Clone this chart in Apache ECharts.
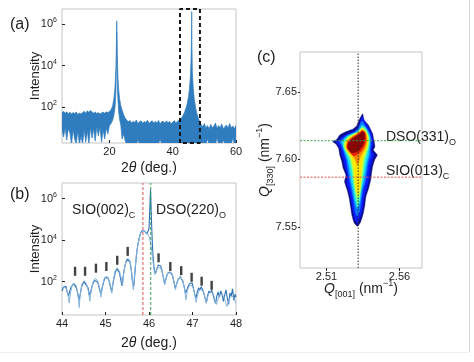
<!DOCTYPE html>
<html><head><meta charset="utf-8">
<script src="https://cdn.jsdelivr.net/npm/echarts@6/dist/echarts.min.js"></script>
<style>html,body{margin:0;padding:0;background:#fff;}#c{width:474px;height:362px;}</style>
</head><body><div id="c"></div>
<script>
// ---------- Panel (a): wide 2θ scan. Noisy trace read as an envelope band [2θ, log10 I upper, log10 I lower]
const aBand = [
[5.0,1.72,0.90],[5.5,1.79,0.55],[6.0,1.69,1.00],[6.5,1.77,0.40],[7.0,1.67,0.95],[7.5,1.75,0.75],
[8.0,1.66,0.20],[8.5,1.73,0.90],[9.0,1.68,0.45],[9.5,1.76,0.20],[10.0,1.63,0.85],[10.5,1.71,0.20],
[11.0,1.66,0.60],[11.5,1.73,0.20],[12.0,1.79,0.90],[12.5,1.70,0.30],[13.0,1.81,0.85],[13.5,1.74,0.20],
[14.0,1.83,1.00],[14.5,1.76,0.50],[15.0,1.70,0.95],[15.5,1.75,0.35],[16.0,1.68,1.05],[16.5,1.73,0.60],
[17.0,1.66,1.05],[17.5,1.71,0.30],[18.0,1.75,0.90],[18.5,1.69,0.45],[19.0,1.77,1.00],[19.5,1.72,0.70],
[20.0,1.79,1.10],[20.5,1.86,1.20],[21.0,2.05,1.35],[21.4,2.40,1.60],[21.7,2.85,1.90],[21.9,3.35,2.30],
[22.05,3.95,2.80],[22.15,4.60,3.60],[22.23,5.40,4.60],[22.30,6.15,5.60],[22.37,5.40,4.60],[22.45,4.60,3.60],
[22.55,3.95,2.80],[22.70,3.35,2.30],[22.90,2.85,1.80],[23.2,2.40,1.40],[23.6,2.05,1.10],[24.0,1.85,0.45],
[24.5,1.62,0.70],[25.0,1.45,0.35],[25.5,1.36,0.20],[26.0,1.28,0.20],[26.5,1.35,0.20],[27.0,1.22,0.20],
[27.5,1.31,0.20],[28.0,1.25,0.20],[28.5,1.37,0.20],[29.0,1.20,0.40],[29.5,1.29,0.20],[30.0,1.33,0.20],
[30.5,1.21,0.20],[31.0,1.30,0.20],[31.5,1.25,0.20],[32.0,1.36,0.20],[32.5,1.20,0.20],[33.0,1.28,0.20],
[33.5,1.33,0.20],[34.0,1.22,0.20],[34.5,1.30,0.20],[35.0,1.24,0.20],[35.5,1.35,0.20],[36.0,1.19,0.45],
[36.5,1.28,0.20],[37.0,1.31,0.20],[37.5,1.21,0.20],[38.0,1.33,0.20],[38.5,1.24,0.20],[39.0,1.30,0.20],
[39.5,1.19,0.20],[40.0,1.27,0.20],[40.5,1.34,0.20],[41.0,1.23,0.20],[41.5,1.30,0.20],[42.0,1.36,0.20],
[42.5,1.42,0.20],[43.0,1.52,0.20],[43.5,1.66,0.20],[44.0,1.85,0.20],[44.5,2.10,0.20],[45.0,2.50,0.20],
[45.3,2.90,0.20],[45.6,3.50,0.20],[45.8,4.30,0.20],[45.93,5.30,0.20],[46.0,6.60,0.20],[46.07,5.00,0.20],
[46.2,3.70,0.20],[46.5,2.90,0.20],[46.8,2.40,0.20],[47.2,2.00,0.20],[47.6,1.70,0.20],[48.0,1.50,0.20],
[48.5,1.30,0.20],[49.0,1.15,0.20],[49.5,1.04,0.20],[50.0,1.20,0.20],[50.5,0.98,0.20],[51.0,1.10,0.45],
[51.5,0.94,0.20],[52.0,1.16,0.20],[52.5,0.99,0.20],[53.0,1.07,0.20],[53.5,1.22,0.20],[54.0,0.97,0.50],
[54.5,1.10,0.20],[55.0,1.00,0.20],[55.5,1.18,0.20],[56.0,0.94,0.40],[56.5,1.05,0.20],[57.0,1.13,0.20],
[57.5,0.97,0.20],[58.0,1.20,0.20],[58.5,1.00,0.20],[59.0,1.08,0.50],[59.5,0.95,0.20],[60.0,1.10,0.20]
];
const aZoomBox = [42.3, 48.6];          // dashed window (2θ)
const aXTicks = [20, 40, 60];
const logTicks = [2, 4, 6];              // exponents labelled 10^n

// ---------- Panel (b): 2θ 44–48, measured trace [2θ, log10 I]
const bTrace = [
[44.00,1.55],[44.03,1.72],[44.06,1.66],[44.09,1.78],[44.12,1.50],[44.15,1.30],[44.18,1.55],[44.21,1.75],
[44.24,1.68],[44.27,1.90],[44.30,1.82],[44.33,1.70],[44.36,1.45],[44.39,1.10],[44.42,1.40],[44.45,1.75],
[44.48,1.90],[44.51,2.00],[44.54,1.88],[44.57,1.95],[44.60,1.70],[44.63,1.35],[44.66,1.50],[44.69,1.78],
[44.72,1.95],[44.75,2.05],[44.78,2.12],[44.81,2.00],[44.84,1.85],[44.87,1.55],[44.90,1.40],[44.93,1.75],
[44.96,2.00],[44.99,2.18],[45.02,2.25],[45.05,2.20],[45.08,2.05],[45.11,1.80],[45.14,1.50],[45.17,1.85],
[45.20,2.20],[45.23,2.48],[45.26,2.62],[45.29,2.60],[45.32,2.42],[45.35,2.10],[45.38,1.80],[45.41,2.30],
[45.44,2.70],[45.47,2.95],[45.50,3.08],[45.53,3.10],[45.56,2.95],[45.59,2.60],[45.62,2.00],[45.65,1.75],
[45.68,2.50],[45.71,3.25],[45.74,3.75],[45.77,4.05],[45.80,4.30],[45.83,4.45],[45.86,4.50],[45.89,4.45],
[45.92,4.37],[45.95,4.30],[45.98,4.38],[46.00,4.55],[46.02,5.60],[46.035,6.45],[46.05,5.40],[46.07,4.20],
[46.09,3.30],[46.12,2.60],[46.15,2.40],[46.18,2.60],[46.21,2.80],[46.24,2.85],[46.27,2.75],[46.30,2.50],
[46.33,2.20],[46.36,1.90],[46.39,2.15],[46.42,2.35],[46.45,2.45],[46.48,2.50],[46.51,2.40],[46.54,2.30],
[46.57,2.00],[46.60,1.70],[46.63,1.85],[46.66,2.05],[46.69,2.15],[46.72,2.25],[46.75,2.18],[46.78,2.00],
[46.81,1.75],[46.84,1.45],[46.87,1.60],[46.90,1.78],[46.93,1.90],[46.96,1.85],[46.99,1.95],[47.02,1.70],
[47.05,1.40],[47.08,1.20],[47.11,1.50],[47.14,1.70],[47.17,1.60],[47.20,1.75],[47.23,1.62],[47.26,1.45],
[47.29,1.20],[47.32,1.00],[47.35,1.35],[47.38,1.55],[47.41,1.45],[47.44,1.60],[47.47,1.38],[47.50,1.15],
[47.53,0.95],[47.56,1.30],[47.59,1.50],[47.62,1.25],[47.65,1.55],[47.68,1.40],[47.71,1.05],[47.74,1.35],
[47.77,1.60],[47.80,1.20],[47.83,0.90],[47.86,1.45],[47.89,1.30],[47.92,1.65],[47.95,1.10],[47.98,1.40],
[48.00,1.25]
];
// smooth (simulated) curve [2θ, log10 I]
const bFit = [
[44.00,1.70],[44.05,1.76],[44.10,1.65],[44.14,1.35],[44.165,0.97],[44.19,1.40],[44.23,1.80],[44.28,1.92],
[44.33,1.80],[44.37,1.35],[44.395,0.75],[44.42,1.40],[44.46,1.90],[44.51,2.05],[44.56,1.92],[44.61,1.50],
[44.64,1.05],[44.67,1.55],[44.72,2.02],[44.77,2.16],[44.82,2.03],[44.87,1.65],[44.895,1.25],[44.92,1.70],
[44.97,2.15],[45.02,2.27],[45.07,2.15],[45.12,1.80],[45.145,1.45],[45.17,1.95],[45.22,2.52],[45.27,2.67],
[45.32,2.52],[45.37,2.10],[45.395,1.80],[45.42,2.45],[45.47,3.00],[45.52,3.13],[45.57,2.95],[45.61,2.30],
[45.64,1.60],[45.67,2.40],[45.71,3.30],[45.75,3.85],[45.80,4.30],[45.86,4.50],[45.92,4.38],[45.97,4.30],
[46.01,4.15],[46.05,3.70],[46.09,3.00],[46.13,2.35],[46.16,2.45],[46.20,2.70],[46.24,2.76],[46.29,2.60],
[46.34,2.10],[46.365,1.84],[46.39,2.15],[46.44,2.42],[46.49,2.48],[46.54,2.35],[46.58,1.95],[46.61,1.60],
[46.64,1.95],[46.68,2.17],[46.73,2.21],[46.78,2.05],[46.82,1.60],[46.85,1.12],[46.88,1.55],[46.92,1.78],
[46.97,1.84],[47.02,1.68],[47.06,1.30],[47.085,1.00],[47.11,1.30],[47.15,1.56],[47.20,1.63],[47.25,1.50],
[47.29,1.20],[47.315,0.95],[47.34,1.20],[47.38,1.45],[47.43,1.52],[47.48,1.40],[47.52,1.10],[47.55,0.90],
[47.58,1.10],[47.62,1.33],[47.67,1.40],[47.72,1.28],[47.76,1.00],[47.79,0.80],[47.82,1.00],[47.86,1.22],
[47.91,1.30],[47.96,1.18],[48.00,0.95]
];
// Laue fringe markers [2θ, log10 I]
const bFringeMarks = [
[44.30,2.50],[44.53,2.50],[44.78,2.65],[45.02,2.73],[45.27,3.03],[45.51,3.46],
[46.22,3.15],[46.49,2.73],[46.74,2.53],[46.98,2.21],[47.21,2.02],[47.44,1.82]
];
const bSioLine = 45.86, bDsoLine = 46.04;
const bXTicks = [44, 45, 46, 47, 48];

// ---------- Panel (c): reciprocal space map, filled contour outlines [Q001, Q330], outer to inner
const cLev1 = [[2.5348,7.6337],[2.5357,7.6292],[2.5387,7.6255],[2.5415,7.6193],[2.5425,7.6143],[2.5432,7.6094],[2.5421,7.6069],[2.5448,7.6032],[2.5430,7.5995],[2.5416,7.5945],[2.5409,7.5896],[2.5403,7.5846],[2.5389,7.5785],[2.5370,7.5722],[2.5363,7.5660],[2.5352,7.5599],[2.5334,7.5536],[2.5313,7.5504],[2.5290,7.5529],[2.5274,7.5586],[2.5265,7.5648],[2.5256,7.5710],[2.5242,7.5772],[2.5224,7.5834],[2.5233,7.5883],[2.5214,7.5933],[2.5205,7.5982],[2.5191,7.6032],[2.5183,7.6082],[2.5164,7.6114],[2.5143,7.6131],[2.5171,7.6149],[2.5191,7.6181],[2.5233,7.6205],[2.5279,7.6223],[2.5306,7.6247],[2.5324,7.6292]];
const cLev2 = [[2.5346,7.6314],[2.5374,7.6259],[2.5401,7.6210],[2.5415,7.6158],[2.5418,7.6106],[2.5408,7.6069],[2.5425,7.6032],[2.5412,7.5995],[2.5401,7.5943],[2.5394,7.5891],[2.5387,7.5839],[2.5374,7.5780],[2.5356,7.5720],[2.5350,7.5661],[2.5339,7.5601],[2.5322,7.5553],[2.5312,7.5527],[2.5298,7.5545],[2.5286,7.5597],[2.5277,7.5653],[2.5268,7.5712],[2.5255,7.5772],[2.5239,7.5831],[2.5246,7.5883],[2.5229,7.5935],[2.5220,7.5984],[2.5207,7.6032],[2.5198,7.6077],[2.5181,7.6106],[2.5167,7.6129],[2.5185,7.6140],[2.5205,7.6166],[2.5243,7.6188],[2.5288,7.6207],[2.5315,7.6233],[2.5332,7.6277]];
const cLev3 = [[2.5343,7.6284],[2.5374,7.6233],[2.5391,7.6203],[2.5401,7.6173],[2.5405,7.6143],[2.5405,7.6114],[2.5401,7.6084],[2.5401,7.6054],[2.5401,7.6025],[2.5391,7.5995],[2.5379,7.5921],[2.5370,7.5846],[2.5350,7.5772],[2.5339,7.5698],[2.5329,7.5623],[2.5308,7.5579],[2.5295,7.5623],[2.5284,7.5698],[2.5271,7.5772],[2.5257,7.5846],[2.5246,7.5921],[2.5236,7.5995],[2.5226,7.6025],[2.5219,7.6054],[2.5209,7.6084],[2.5198,7.6114],[2.5188,7.6125],[2.5202,7.6143],[2.5233,7.6173],[2.5295,7.6203],[2.5321,7.6233]];
const cLev4 = [[2.5343,7.6255],[2.5367,7.6233],[2.5385,7.6203],[2.5396,7.6173],[2.5399,7.6143],[2.5398,7.6114],[2.5394,7.6084],[2.5391,7.6054],[2.5387,7.6025],[2.5381,7.5995],[2.5368,7.5921],[2.5357,7.5846],[2.5339,7.5772],[2.5331,7.5698],[2.5312,7.5638],[2.5293,7.5698],[2.5281,7.5772],[2.5267,7.5846],[2.5257,7.5921],[2.5245,7.5995],[2.5235,7.6025],[2.5226,7.6054],[2.5216,7.6084],[2.5209,7.6114],[2.5203,7.6128],[2.5216,7.6143],[2.5243,7.6173],[2.5305,7.6203],[2.5332,7.6233]];
const cLev5 = [[2.5343,7.6244],[2.5365,7.6233],[2.5380,7.6203],[2.5391,7.6173],[2.5393,7.6143],[2.5392,7.6114],[2.5387,7.6084],[2.5381,7.6054],[2.5374,7.6025],[2.5367,7.5995],[2.5357,7.5921],[2.5347,7.5846],[2.5336,7.5772],[2.5326,7.5698],[2.5314,7.5653],[2.5302,7.5698],[2.5291,7.5772],[2.5280,7.5846],[2.5271,7.5921],[2.5257,7.5995],[2.5246,7.6025],[2.5233,7.6054],[2.5220,7.6084],[2.5216,7.6114],[2.5225,7.6143],[2.5253,7.6173],[2.5312,7.6203],[2.5338,7.6233]];
const cLev6 = [[2.5343,7.6234],[2.5374,7.6203],[2.5385,7.6173],[2.5388,7.6143],[2.5387,7.6114],[2.5381,7.6084],[2.5372,7.6054],[2.5362,7.6025],[2.5355,7.5995],[2.5347,7.5921],[2.5339,7.5846],[2.5332,7.5772],[2.5315,7.5712],[2.5297,7.5772],[2.5288,7.5846],[2.5281,7.5921],[2.5268,7.5995],[2.5257,7.6025],[2.5240,7.6054],[2.5226,7.6084],[2.5223,7.6114],[2.5233,7.6143],[2.5264,7.6173],[2.5319,7.6203]];
const cLev7 = [[2.5343,7.6225],[2.5369,7.6203],[2.5380,7.6173],[2.5383,7.6143],[2.5381,7.6114],[2.5374,7.6084],[2.5363,7.6054],[2.5353,7.6025],[2.5347,7.5995],[2.5339,7.5921],[2.5335,7.5846],[2.5328,7.5787],[2.5315,7.5742],[2.5304,7.5787],[2.5296,7.5846],[2.5289,7.5921],[2.5278,7.5995],[2.5267,7.6025],[2.5246,7.6054],[2.5231,7.6084],[2.5230,7.6114],[2.5241,7.6143],[2.5274,7.6173],[2.5324,7.6203]];
const cLev8 = [[2.5343,7.6218],[2.5365,7.6203],[2.5374,7.6173],[2.5377,7.6143],[2.5374,7.6114],[2.5365,7.6084],[2.5351,7.6054],[2.5335,7.6025],[2.5326,7.5995],[2.5312,7.5958],[2.5298,7.5995],[2.5281,7.6025],[2.5253,7.6054],[2.5236,7.6084],[2.5237,7.6114],[2.5249,7.6143],[2.5284,7.6173],[2.5329,7.6203]];
const cLev9 = [[2.5343,7.6212],[2.5362,7.6203],[2.5369,7.6173],[2.5370,7.6143],[2.5365,7.6114],[2.5353,7.6084],[2.5332,7.6054],[2.5288,7.6025],[2.5262,7.6054],[2.5242,7.6084],[2.5242,7.6114],[2.5256,7.6143],[2.5295,7.6173],[2.5333,7.6203]];
const cLev10 = [[2.5343,7.6207],[2.5360,7.6195],[2.5363,7.6173],[2.5362,7.6143],[2.5353,7.6114],[2.5336,7.6084],[2.5319,7.6062],[2.5274,7.6047],[2.5260,7.6062],[2.5246,7.6084],[2.5248,7.6114],[2.5264,7.6143],[2.5305,7.6173],[2.5336,7.6195]];
const cColors = ['#0b0b8f','#0a1cff','#0a78ff','#12d6ff','#5cffa6','#c8ff3c','#ffe600','#ff8a00','#ee2200','#8a0606'];
const cQ001Line = 2.5317, cDsoLine = 7.6138, cSioLine = 7.5868;
const cXTicks = [2.51, 2.56];
const cYTicks = [7.55, 7.60, 7.65];

// ---------- axis ranges
const aXRange = [5, 60], aLogRange = [0.26, 6.725];
const bXRange = [44, 48], bLogRange = [0.39, 6.76];
const cXRange = [2.4918, 2.5755], cYRange = [7.5195, 7.6795];

const FONT = '"Liberation Sans", Arial, Helvetica, sans-serif';
const INK = '#1e1e1e';
const BLUE_A = '#2f7cbf';
const toI = e => Math.pow(10, e);
const cLevels = [cLev1,cLev2,cLev3,cLev4,cLev5,cLev6,cLev7,cLev8,cLev9,cLev10];

const supRich = {
  b: {fontSize: 11, fontFamily: FONT, color: INK, lineHeight: 14},
  s: {fontSize: 7, fontFamily: FONT, color: INK, lineHeight: 8, verticalAlign: 'top'}
};
const logFmt = v => '{b|10}{s|' + Math.round(Math.log10(v)) + '}';
const nameRich = {
  i: {fontStyle: 'italic', fontSize: 14, fontFamily: FONT, color: INK, lineHeight: 20},
  sub: {fontSize: 9, fontFamily: FONT, color: INK, lineHeight: 10, verticalAlign: 'bottom'},
  sup: {fontSize: 9, fontFamily: FONT, color: INK, lineHeight: 10, verticalAlign: 'top'}
};
const nameStyle = (size) => ({fontSize: size, fontFamily: FONT, color: INK, lineHeight: 20, rich: nameRich});
const tickStyle = {lineStyle: {color: '#222', width: 1}};

function logYAxis(grid, range, ticks) {
  return {
    type: 'log', logBase: 10, gridIndex: grid, min: toI(range[0]), max: toI(range[1]),
    axisLine: {show: false}, splitLine: {show: false}, minorTick: {show: false},
    axisTick: Object.assign({show: true, inside: true, length: 3, customValues: ticks.map(toI)}, tickStyle),
    axisLabel: {customValues: ticks.map(toI), formatter: logFmt, rich: supRich, margin: 5},
    name: 'Intensity', nameLocation: 'middle', nameGap: 20, nameMoveOverlap: false,
    nameTextStyle: {fontSize: 13, fontFamily: FONT, color: INK}
  };
}
function xAxis2t(grid, range, ticks, gap) {
  return {
    type: 'value', gridIndex: grid, min: range[0], max: range[1],
    axisLine: {show: false}, splitLine: {show: false},
    axisTick: Object.assign({show: true, inside: true, length: 3, customValues: ticks}, tickStyle),
    axisLabel: {customValues: ticks, fontSize: 11, fontFamily: FONT, color: INK, margin: 3},
    name: '2{i|θ} (deg.)', nameLocation: 'middle', nameGap: gap, nameTextStyle: nameStyle(14)
  };
}

const aTop = toI(aLogRange[1]), aBot = toI(aLogRange[0]);
const bTop = toI(bLogRange[1]), bBot = toI(bLogRange[0]);

const option = {
  animation: false,
  backgroundColor: '#ffffff',
  grid: [
    {left: 62, top: 9, width: 174, height: 134, show: true, borderColor: '#c4c4c4', borderWidth: 1},
    {left: 62, top: 183, width: 174, height: 132, show: true, borderColor: '#c4c4c4', borderWidth: 1},
    {left: 300, top: 52, width: 122, height: 216, show: true, borderColor: '#c4c4c4', borderWidth: 1}
  ],
  xAxis: [
    xAxis2t(0, aXRange, aXTicks, 12),
    xAxis2t(1, bXRange, bXTicks, 18),
    {
      type: 'value', gridIndex: 2, min: cXRange[0], max: cXRange[1],
      axisLine: {show: false}, splitLine: {show: false},
      axisTick: Object.assign({show: true, inside: false, length: 3, customValues: cXTicks}, tickStyle),
      axisLabel: {customValues: cXTicks, formatter: v => v.toFixed(2), fontSize: 11, fontFamily: FONT, color: INK, margin: 3},
      name: '{i|Q}{sub|[001]} (nm{sup|−1})', nameLocation: 'middle', nameGap: 11, nameMoveOverlap: false,
      nameTextStyle: nameStyle(14)
    }
  ],
  yAxis: [
    logYAxis(0, aLogRange, logTicks),
    logYAxis(1, bLogRange, logTicks),
    {
      type: 'value', gridIndex: 2, min: cYRange[0], max: cYRange[1],
      axisLine: {show: false}, splitLine: {show: false},
      axisTick: Object.assign({show: true, inside: false, length: 2, customValues: cYTicks}, tickStyle),
      axisLabel: {customValues: cYTicks, formatter: v => v.toFixed(2), fontSize: 11, fontFamily: FONT, color: INK, margin: 3},
      name: '{i|Q}{sub|[330]} (nm{sup|−1})', nameLocation: 'middle', nameGap: 25, nameMoveOverlap: false,
      nameTextStyle: nameStyle(14)
    }
  ],
  series: [
    // (a) noisy trace band: upper envelope forward, lower envelope back
    {type: 'custom', xAxisIndex: 0, yAxisIndex: 0, clip: true, silent: true,
     data: [[aBand[0][0], toI(aBand[0][1])]], encode: {x: 0, y: 1},
     renderItem: (params, api) => {
       const up = aBand.map(r => api.coord([r[0], toI(r[1])]));
       const lo = aBand.slice().reverse().map(r => api.coord([r[0], toI(r[2])]));
       return {type: 'polygon', shape: {points: up.concat(lo)},
               style: {fill: BLUE_A, stroke: BLUE_A, lineWidth: 0.7}};
     }},
    // (a) dashed window
    {type: 'line', xAxisIndex: 0, yAxisIndex: 0, clip: false, symbol: 'none', silent: true,
     data: [[aZoomBox[0], aBot], [aZoomBox[0], aTop], [aZoomBox[1], aTop], [aZoomBox[1], aBot], [aZoomBox[0], aBot]],
     lineStyle: {color: '#151515', width: 2, type: [4, 3]}},
    // (b) measured trace and smooth curve
    {type: 'line', xAxisIndex: 1, yAxisIndex: 1, data: bTrace.map(p => [p[0], toI(p[1])]), symbol: 'none',
     lineStyle: {color: '#2c72b4', width: 1.1}, silent: true},
    {type: 'line', xAxisIndex: 1, yAxisIndex: 1, data: bFit.map(p => [p[0], toI(p[1])]), symbol: 'none',
     lineStyle: {color: '#86b4de', width: 1}, silent: true},
    {type: 'line', xAxisIndex: 1, yAxisIndex: 1, symbol: 'none', silent: true,
     data: [[bSioLine, bBot], [bSioLine, bTop]], lineStyle: {color: '#e4504c', width: 1, type: [3, 2]}},
    {type: 'line', xAxisIndex: 1, yAxisIndex: 1, symbol: 'none', silent: true,
     data: [[bDsoLine, bBot], [bDsoLine, bTop]], lineStyle: {color: '#3a9e58', width: 1, type: [3, 2]}},
    {type: 'scatter', xAxisIndex: 1, yAxisIndex: 1, symbol: 'rect', symbolSize: [2.4, 9], silent: true,
     data: bFringeMarks.map(p => [p[0], toI(p[1])]), itemStyle: {color: '#111'}},
    // (c) filled contours
    {type: 'custom', xAxisIndex: 2, yAxisIndex: 2, clip: true, silent: true,
     data: cLevels.map((poly, i) => [poly[0][0], poly[0][1], i]),
     encode: {x: 0, y: 1},
     renderItem: (params, api) => {
       const i = params.dataIndex;
       return {type: 'polygon',
               shape: {points: cLevels[i].map(p => api.coord(p)), smooth: i < 2 ? 0.15 : 0.3},
               style: {fill: cColors[i], stroke: cColors[i], lineWidth: 0.4}};
     }},
    {type: 'line', xAxisIndex: 2, yAxisIndex: 2, symbol: 'none', silent: true,
     data: [[cQ001Line, cYRange[0]], [cQ001Line, cYRange[1]]], lineStyle: {color: '#333', width: 1, type: [1.5, 1.5]}},
    {type: 'line', xAxisIndex: 2, yAxisIndex: 2, symbol: 'none', silent: true,
     data: [[cXRange[0], cDsoLine], [cXRange[1], cDsoLine]], lineStyle: {color: '#44a04a', width: 1, type: [2, 1.5]}},
    {type: 'line', xAxisIndex: 2, yAxisIndex: 2, symbol: 'none', silent: true,
     data: [[cXRange[0], cSioLine], [cXRange[1], cSioLine]], lineStyle: {color: '#e0504c', width: 1, type: [2, 1.5]}}
  ],
  graphic: []
};

const labRich = {
  m: {fontSize: 14, fontFamily: FONT, fill: INK, lineHeight: 20},
  s: {fontSize: 9, fontFamily: FONT, fill: INK, lineHeight: 10, verticalAlign: 'bottom'}
};
function label(text, x, y) {
  return {type: 'text', x: x, y: y, silent: true,
          style: {text: text, rich: labRich, fill: INK, font: '14px ' + FONT, verticalAlign: 'middle', align: 'left'}};
}
function panelTag(text, x, y) {
  return {type: 'text', x: x, y: y, silent: true,
          style: {text: text, fill: INK, font: '16px ' + FONT, verticalAlign: 'middle', align: 'left'}};
}
option.graphic = [
  panelTag('(a)', 10, 25), panelTag('(b)', 10, 195), panelTag('(c)', 257, 58),
  label('{m|SIO(002)}{s|C}', 72, 210),
  label('{m|DSO(220)}{s|O}', 156, 210),
  label('{m|DSO(331)}{s|O}', 386, 137),
  label('{m|SIO(013)}{s|C}', 386, 171),
  {type: 'line', silent: true, shape: {x1: 469.5, y1: 0, x2: 469.5, y2: 352}, style: {stroke: '#d6d6d6', lineWidth: 1}},
  {type: 'line', silent: true, shape: {x1: 0, y1: 352.5, x2: 469, y2: 352.5}, style: {stroke: '#efefef', lineWidth: 1}}
];

const chart = echarts.init(document.getElementById('c'), null, {renderer: 'canvas'});
chart.setOption(option);
</script>
</body></html>
